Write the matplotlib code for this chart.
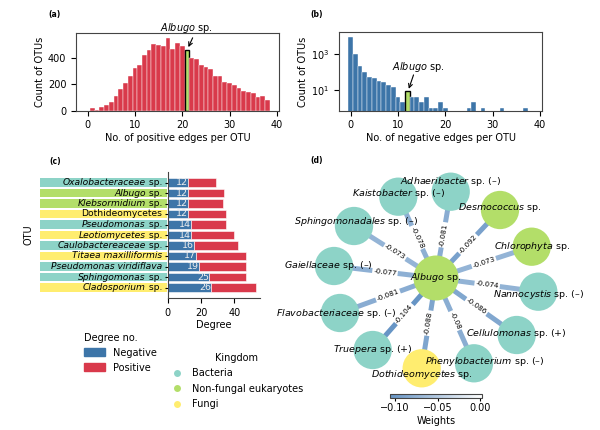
import numpy as np
import matplotlib
matplotlib.use("Agg")
import matplotlib.pyplot as plt
from matplotlib.patches import Patch, Rectangle
from matplotlib.lines import Line2D
from matplotlib.colors import LinearSegmentedColormap, Normalize
from matplotlib.transforms import blended_transform_factory, offset_copy
import matplotlib.cm as cm

plt.rcParams['font.family'] = ['DejaVu Sans']
plt.rcParams['font.size'] = 7
plt.rcParams['axes.edgecolor'] = '#444444'
plt.rcParams['axes.linewidth'] = 0.8

RED = '#d9394b'
BLUE = '#3d75a8'
GREEN = '#b3de69'
TEAL = '#8dd3c7'
YELLOW = '#ffed6f'
kingdom_colors = {'Bacteria': TEAL, 'Non-fungal eukaryotes': GREEN, 'Fungi': YELLOW}

# (a) positive edges histogram, bins 0..38
pos_bins = list(range(39))
pos_counts = [1, 17, 8, 25, 40, 68, 110, 162, 205, 262, 318, 345, 420, 458,
              500, 497, 490, 550, 463, 507, 485, 456, 395, 390, 340, 330, 310,
              258, 258, 215, 208, 195, 170, 145, 138, 132, 105, 112, 80]
albugo_pos = 21

# (b) negative edges histogram, bins 0..38
neg_bins = list(range(39))
neg_counts = [9000, 950, 225, 105, 55, 45, 32, 27, 19, 15, 4, 2, 9, 4, 4, 2,
              4, 1, 1, 2, 1, 0, 0, 0, 0, 1, 2, 0, 1, 0, 0, 0, 1, 0, 0, 0, 0, 1, 0]
albugo_neg = 12

# (c) degree of top OTUs: italic part, plain part
otu_italic = ['Oxalobacteraceae', 'Albugo', 'Klebsormidium', '', 'Pseudomonas',
              'Leotiomycetes', 'Caulobactereaceae', 'Titaea maxilliformis',
              'Pseudomonas viridiflava', 'Sphingomonas', 'Cladosporium']
otu_plain = [' sp.', ' sp.', ' sp.', 'Dothideomycetes', ' sp.', ' sp.', ' sp.',
             '', '', ' sp.', ' sp.']
otu_kingdom = ['Bacteria', 'Non-fungal eukaryotes', 'Non-fungal eukaryotes', 'Fungi',
               'Bacteria', 'Fungi', 'Bacteria', 'Fungi', 'Bacteria', 'Bacteria', 'Fungi']
neg_degree = [12, 12, 12, 12, 14, 14, 16, 17, 19, 25, 26]
pos_degree = [17, 22, 21, 23, 21, 26, 26, 30, 28, 22, 27]

# (d) Albugo neighbourhood
hub = r'$\mathit{Albugo}$ sp.'
nb_names = [r'$\mathit{Adhaeribacter}$ sp. (–)', r'$\mathit{Kaistobacter}$ sp. (–)',
            r'$\mathit{Desmococcus}$ sp.', r'$\mathit{Sphingomonadales}$ sp. (–)',
            r'$\mathit{Chlorophyta}$ sp.', r'$\mathit{Gaiellaceae}$ sp. (–)',
            r'$\mathit{Nannocystis}$ sp. (–)', r'$\mathit{Flavobacteriaceae}$ sp. (–)',
            r'$\mathit{Cellulomonas}$ sp. (+)', r'$\mathit{Truepera}$ sp. (+)',
            r'$\mathit{Dothideomycetes}$ sp.', r'$\mathit{Phenylobacterium}$ sp. (–)']
nb_kingdom = ['Bacteria', 'Bacteria', 'Non-fungal eukaryotes', 'Bacteria',
              'Non-fungal eukaryotes', 'Bacteria', 'Bacteria', 'Bacteria',
              'Bacteria', 'Bacteria', 'Fungi', 'Bacteria']
nb_weights = [-0.081, -0.078, -0.092, -0.073, -0.073, -0.077, -0.074, -0.081,
              -0.086, -0.104, -0.088, -0.08]
# layout (spring-like) positions, hub at origin
nb_x = [0.147, -0.377, 0.64, -0.82, 0.957, -1.02, 1.023, -0.96, 0.807, -0.633, -0.143, 0.38]
nb_y = [0.863, 0.813, 0.68, 0.52, 0.313, 0.12, -0.137, -0.35, -0.57, -0.72, -0.903, -0.853]
label_dx = [0.0, 0.0, 0.0, 0.02, 0.0, -0.06, 0.0, -0.04, 0.0, 0.0, 0.0, 0.11]
label_dy = [0.10, 0.03, 0.02, 0.05, 0.0, 0.0, -0.03, 0.0, 0.02, 0.01, -0.06, 0.02]

fig = plt.figure(figsize=(6, 4.3), dpi=100)
W, H = 600.0, 430.0


def px_axes(l, t, r, b):
    return fig.add_axes([l / W, 1 - b / H, (r - l) / W, (b - t) / H])


# ---- (a)
axa = px_axes(76, 32.5, 279, 110.7)
fc = [GREEN if b == albugo_pos else RED for b in pos_bins]
ec = ['black' if b == albugo_pos else 'white' for b in pos_bins]
lw = [1.0 if b == albugo_pos else 0.3 for b in pos_bins]
axa.bar(pos_bins, pos_counts, width=1, color=fc, edgecolor=ec, linewidth=lw)
axa.set_xlim(-2.45, 40.45)
axa.set_ylim(0, 588)
axa.set_xticks([0, 10, 20, 30, 40])
axa.set_yticks([0, 200, 400])
axa.set_xlabel('No. of positive edges per OTU', labelpad=2)
axa.set_ylabel('Count of OTUs', labelpad=2)
axa.text(20.8, 625, r'$\mathit{Albugo}$ sp.', ha='center', va='center', clip_on=False)
axa.annotate('', xy=(albugo_pos + 0.3, 478), xytext=(albugo_pos + 1.2, 548),
             arrowprops=dict(arrowstyle='->', lw=0.8, color='k', shrinkA=0, shrinkB=0),
             annotation_clip=False)

# ---- (b)
axb = px_axes(339, 32.3, 542, 110.7)
nb = np.array(neg_bins)
nc = np.array(neg_counts, dtype=float)
keep = nc > 0
fcb = [GREEN if b == albugo_neg else BLUE for b in nb[keep]]
ecb = ['black' if b == albugo_neg else 'white' for b in nb[keep]]
lwb = [1.0 if b == albugo_neg else 0.3 for b in nb[keep]]
axb.bar(nb[keep], nc[keep], width=1, color=fcb, edgecolor=ecb, linewidth=lwb)
axb.set_yscale('log')
axb.set_xlim(-2.45, 40.45)
axb.set_ylim(0.7, 15800)
axb.set_xticks([0, 10, 20, 30, 40])
axb.set_yticks([10, 1000])
axb.yaxis.set_minor_locator(matplotlib.ticker.NullLocator())
axb.set_xlabel('No. of negative edges per OTU', labelpad=2)
axb.set_ylabel('Count of OTUs', labelpad=2)
axb.text(14.3, 190, r'$\mathit{Albugo}$ sp.', ha='center', va='center')
axb.annotate('', xy=(albugo_neg + 0.3, 11.5), xytext=(albugo_neg + 1.3, 68),
             arrowprops=dict(arrowstyle='->', lw=0.8, color='k', shrinkA=0, shrinkB=0))

# ---- (c)
axc = px_axes(167.7, 172, 260, 298)
ypos = np.arange(len(otu_italic))
axc.barh(ypos, neg_degree, height=0.8, color=BLUE, edgecolor='white', linewidth=0.4)
axc.barh(ypos, pos_degree, left=neg_degree, height=0.8, color=RED,
         edgecolor='white', linewidth=0.4)
for y, v in zip(ypos, neg_degree):
    axc.text(v, y, str(v), ha='right', va='center', color='#eeeeee', fontsize=6.8)
axc.set_ylim(11, -1)
axc.set_xlim(0, 55.4)
axc.set_yticks(ypos)
axc.set_yticklabels([])
axc.tick_params(axis='y', length=2.5)
axc.set_xticks([0, 20, 40])
axc.spines['top'].set_visible(False)
axc.spines['right'].set_visible(False)
axc.set_xlabel('Degree', labelpad=2)
axc.set_ylabel('OTU')
axc.yaxis.set_label_coords((33 - 167.7) / (260 - 167.7), 0.5)
tr = blended_transform_factory(fig.transFigure, axc.transData)
lab_tr = offset_copy(blended_transform_factory(axc.transAxes, axc.transData),
                     fig=fig, x=-4, y=0, units='points')
for y, k, it, pl in zip(ypos, otu_kingdom, otu_italic, otu_plain):
    axc.add_patch(Rectangle((40 / W, y - 0.4), (166.7 - 40) / W, 0.8, transform=tr,
                            facecolor=kingdom_colors[k], edgecolor='none',
                            clip_on=False, zorder=0.5))
    if pl:
        t = axc.text(0, y, pl, transform=lab_tr, ha='right', va='center',
                     fontsize=6.6, clip_on=False)
        if it:
            axc.annotate(it, xy=(0, 0.5), xycoords=t, ha='right', va='center',
                         fontsize=6.6, fontstyle='italic', annotation_clip=False)
    else:
        axc.text(0, y, it, transform=lab_tr, ha='right', va='center',
                 fontsize=6.6, fontstyle='italic', clip_on=False)

# legends
leg1 = fig.legend(handles=[Patch(color=BLUE, label='Negative'),
                           Patch(color=RED, label='Positive')],
                  title='Degree no.', loc='upper left', bbox_to_anchor=(80 / W, 1 - 329 / H),
                  frameon=False, fontsize=7, title_fontsize=7, alignment='left',
                  handlelength=2.2, handleheight=0.9, labelspacing=0.5, borderaxespad=0)
leg2 = fig.legend(handles=[Line2D([], [], ls='none', marker='o', ms=5,
                                  mfc=kingdom_colors[k], mec='none', label=k)
                           for k in kingdom_colors],
                  title='Kingdom', loc='upper left', bbox_to_anchor=(166 / W, 1 - 349 / H),
                  frameon=False, fontsize=7, title_fontsize=7,
                  handlelength=1.5, labelspacing=0.55, borderaxespad=0)

# ---- (d)
axd = fig.add_axes([280 / W, 1 - 392 / H, 315 / W, 224 / H])
axd.set_xlim(-1.56, 1.59)
axd.set_ylim(-1.14, 1.10)
axd.axis('off')
cmap = LinearSegmentedColormap.from_list('wblue', ['#6593c4', '#ffffff'])
norm = Normalize(vmin=-0.106, vmax=0.002)
for x, y, w in zip(nb_x, nb_y, nb_weights):
    axd.plot([0, x], [0, y], color=cmap(norm(w)), lw=3.6, zorder=1,
             solid_capstyle='butt')
    ang = np.degrees(np.arctan2(y, x))
    if ang > 90:
        ang -= 180
    elif ang < -90:
        ang += 180
    axd.text(x / 2, y / 2, '%g' % w, rotation=ang, rotation_mode='anchor',
             ha='center', va='center', fontsize=5.2, zorder=2,
             bbox=dict(boxstyle='round,pad=0.15', fc='white', ec='none'))
axd.scatter(nb_x, nb_y, s=760, c=[kingdom_colors[k] for k in nb_kingdom],
            edgecolors='none', zorder=3)
axd.scatter([0], [0], s=1050, c=[GREEN], edgecolors='none', zorder=3)
for x, y, dx, dy, name in zip(nb_x, nb_y, label_dx, label_dy, nb_names):
    axd.text(x + dx, y + dy, name, ha='center', va='center', fontsize=6.8, zorder=4)
axd.text(0, 0, hub, ha='center', va='center', fontsize=6.8, zorder=4)

cax = fig.add_axes([390 / W, 1 - 397.5 / H, 91.7 / W, 3.6 / H])
cb = fig.colorbar(cm.ScalarMappable(norm=norm, cmap=cmap), cax=cax, orientation='horizontal')
cb.set_ticks([-0.10, -0.05, 0.00])
cb.ax.set_xticklabels(['−0.10', '−0.05', '0.00'])
cb.outline.set_edgecolor('#444444')
cb.outline.set_linewidth(0.8)
cb.ax.tick_params(length=2.5, pad=1.5)
cb.set_label('Weights', labelpad=2)

# panel labels
for lab, x, y in [('(a)', 55, 15), ('(b)', 317, 15), ('(c)', 55, 161.5), ('(d)', 317, 161)]:
    fig.text(x / W, 1 - y / H, lab, fontsize=5.5, fontweight='bold', ha='center', va='center')

fig.savefig('out.png', dpi=100)
